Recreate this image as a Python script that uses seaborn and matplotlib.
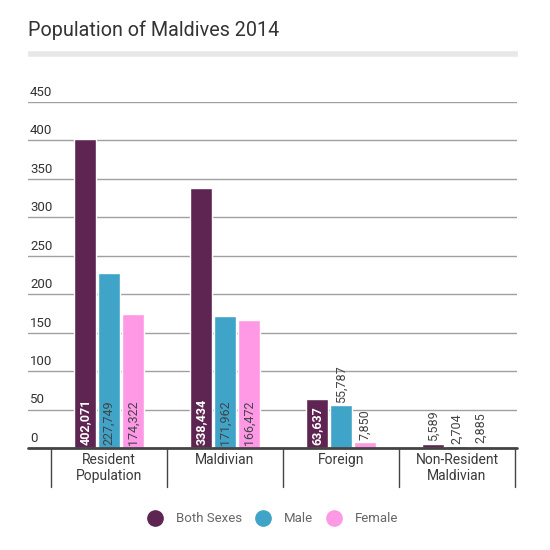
import numpy as np
import pandas as pd
import seaborn as sns
import matplotlib.pyplot as plt
from matplotlib.lines import Line2D
from matplotlib.transforms import blended_transform_factory

categories = ["Resident\nPopulation", "Maldivian", "Foreign", "Non-Resident\nMaldivian"]
series = ["Both Sexes", "Male", "Female"]
both_sexes = [402071, 338434, 63637, 5589]
male = [227749, 171962, 55787, 2704]
female = [174322, 166472, 7850, 2885]
colors = ["#5e2552", "#40a4c8", "#ff99e6"]
y_ticks = [0, 50, 100, 150, 200, 250, 300, 350, 400, 450]


def main():
    sns.set_style("white")
    plt.rcParams["font.family"] = ["Roboto", "DejaVu Sans"]

    rows = []
    for name, vals in zip(series, [both_sexes, male, female]):
        for cat, v in zip(categories, vals):
            rows.append({"category": cat, "sex": name, "value": v / 1000})
    df = pd.DataFrame(rows)

    fig = plt.figure(figsize=(5.5, 5.5), dpi=100)
    W, H = 550, 550
    left, right, bottom, top = 28, 517, 448, 102
    ax = fig.add_axes([left / W, 1 - bottom / H, (right - left) / W, (bottom - top) / H])

    sns.barplot(data=df, x="category", y="value", hue="sex", order=categories,
                hue_order=series, palette=colors, width=0.62, gap=0.08,
                saturation=1, ax=ax, legend=False, zorder=3)

    ax.set_xlim(-0.698, 3.517)
    ax.set_ylim(0, 450)
    ax.set_xlabel("")
    ax.set_ylabel("")
    for s in ax.spines.values():
        s.set_visible(False)
    ax.set_yticks(y_ticks)
    ax.set_yticklabels([])
    ax.set_xticks([])
    ax.tick_params(length=0)

    # gridlines with tick labels sitting on top of them
    for t in y_ticks[1:]:
        ax.axhline(t, color="#a0a0a0", lw=1, zorder=1)
    for t in y_ticks:
        ax.text(0.004, t + 4, str(t), transform=blended_transform_factory(ax.transAxes, ax.transData),
                ha="left", va="bottom", fontsize=9.5, color="#333333")
    ax.axhline(0, color="#444444", lw=2, zorder=4, clip_on=False)

    # category separators and labels below the axis
    trans = blended_transform_factory(ax.transData, ax.transAxes)
    for xb in np.arange(-0.5, 4, 1):
        ax.plot([xb, xb], [0, -39 / (bottom - top)], color="#444444", lw=1, transform=trans, clip_on=False)
    for i, cat in enumerate(categories):
        ax.text(i, -5 / (bottom - top), cat, transform=trans, ha="center", va="top",
                fontsize=10, color="#3a3a3a", linespacing=1.15)

    # value labels
    for j, cont in enumerate(ax.containers):
        vals = [both_sexes, male, female][j]
        for bar, v in zip(cont, vals):
            xc = bar.get_x() + bar.get_width() / 2
            h = bar.get_height()
            label = f"{v:,}"
            if v >= 60000:
                ax.text(xc, 4, label, rotation=90, ha="center", va="bottom", fontsize=9,
                        color="white" if j == 0 else "#444444",
                        fontweight="bold" if j == 0 else "normal", zorder=5)
            else:
                ax.text(xc, h + 3, label, rotation=90, ha="center", va="bottom", fontsize=9,
                        color="#444444", zorder=5)

    # title and grey rule under it
    fig.text(left / W, 1 - 30 / H, "Population of Maldives 2014", ha="left", va="center",
             fontsize=14.2, color="#333333")
    fig.add_artist(Line2D([left / W, 518 / W], [1 - 54 / H, 1 - 54 / H], color="#e8e8e8",
                          lw=4, solid_capstyle="butt"))

    handles = [Line2D([], [], marker="o", ls="", markersize=11, markerfacecolor=c,
                      markeredgecolor=c) for c in colors]
    fig.legend(handles, series, loc="center", bbox_to_anchor=(270 / W, 1 - 519 / H), ncol=3,
               frameon=False, fontsize=9.5, labelcolor="#666666", handletextpad=0.6,
               columnspacing=0.6)

    fig.savefig("out.png", dpi=100)


if __name__ == "__main__":
    main()
